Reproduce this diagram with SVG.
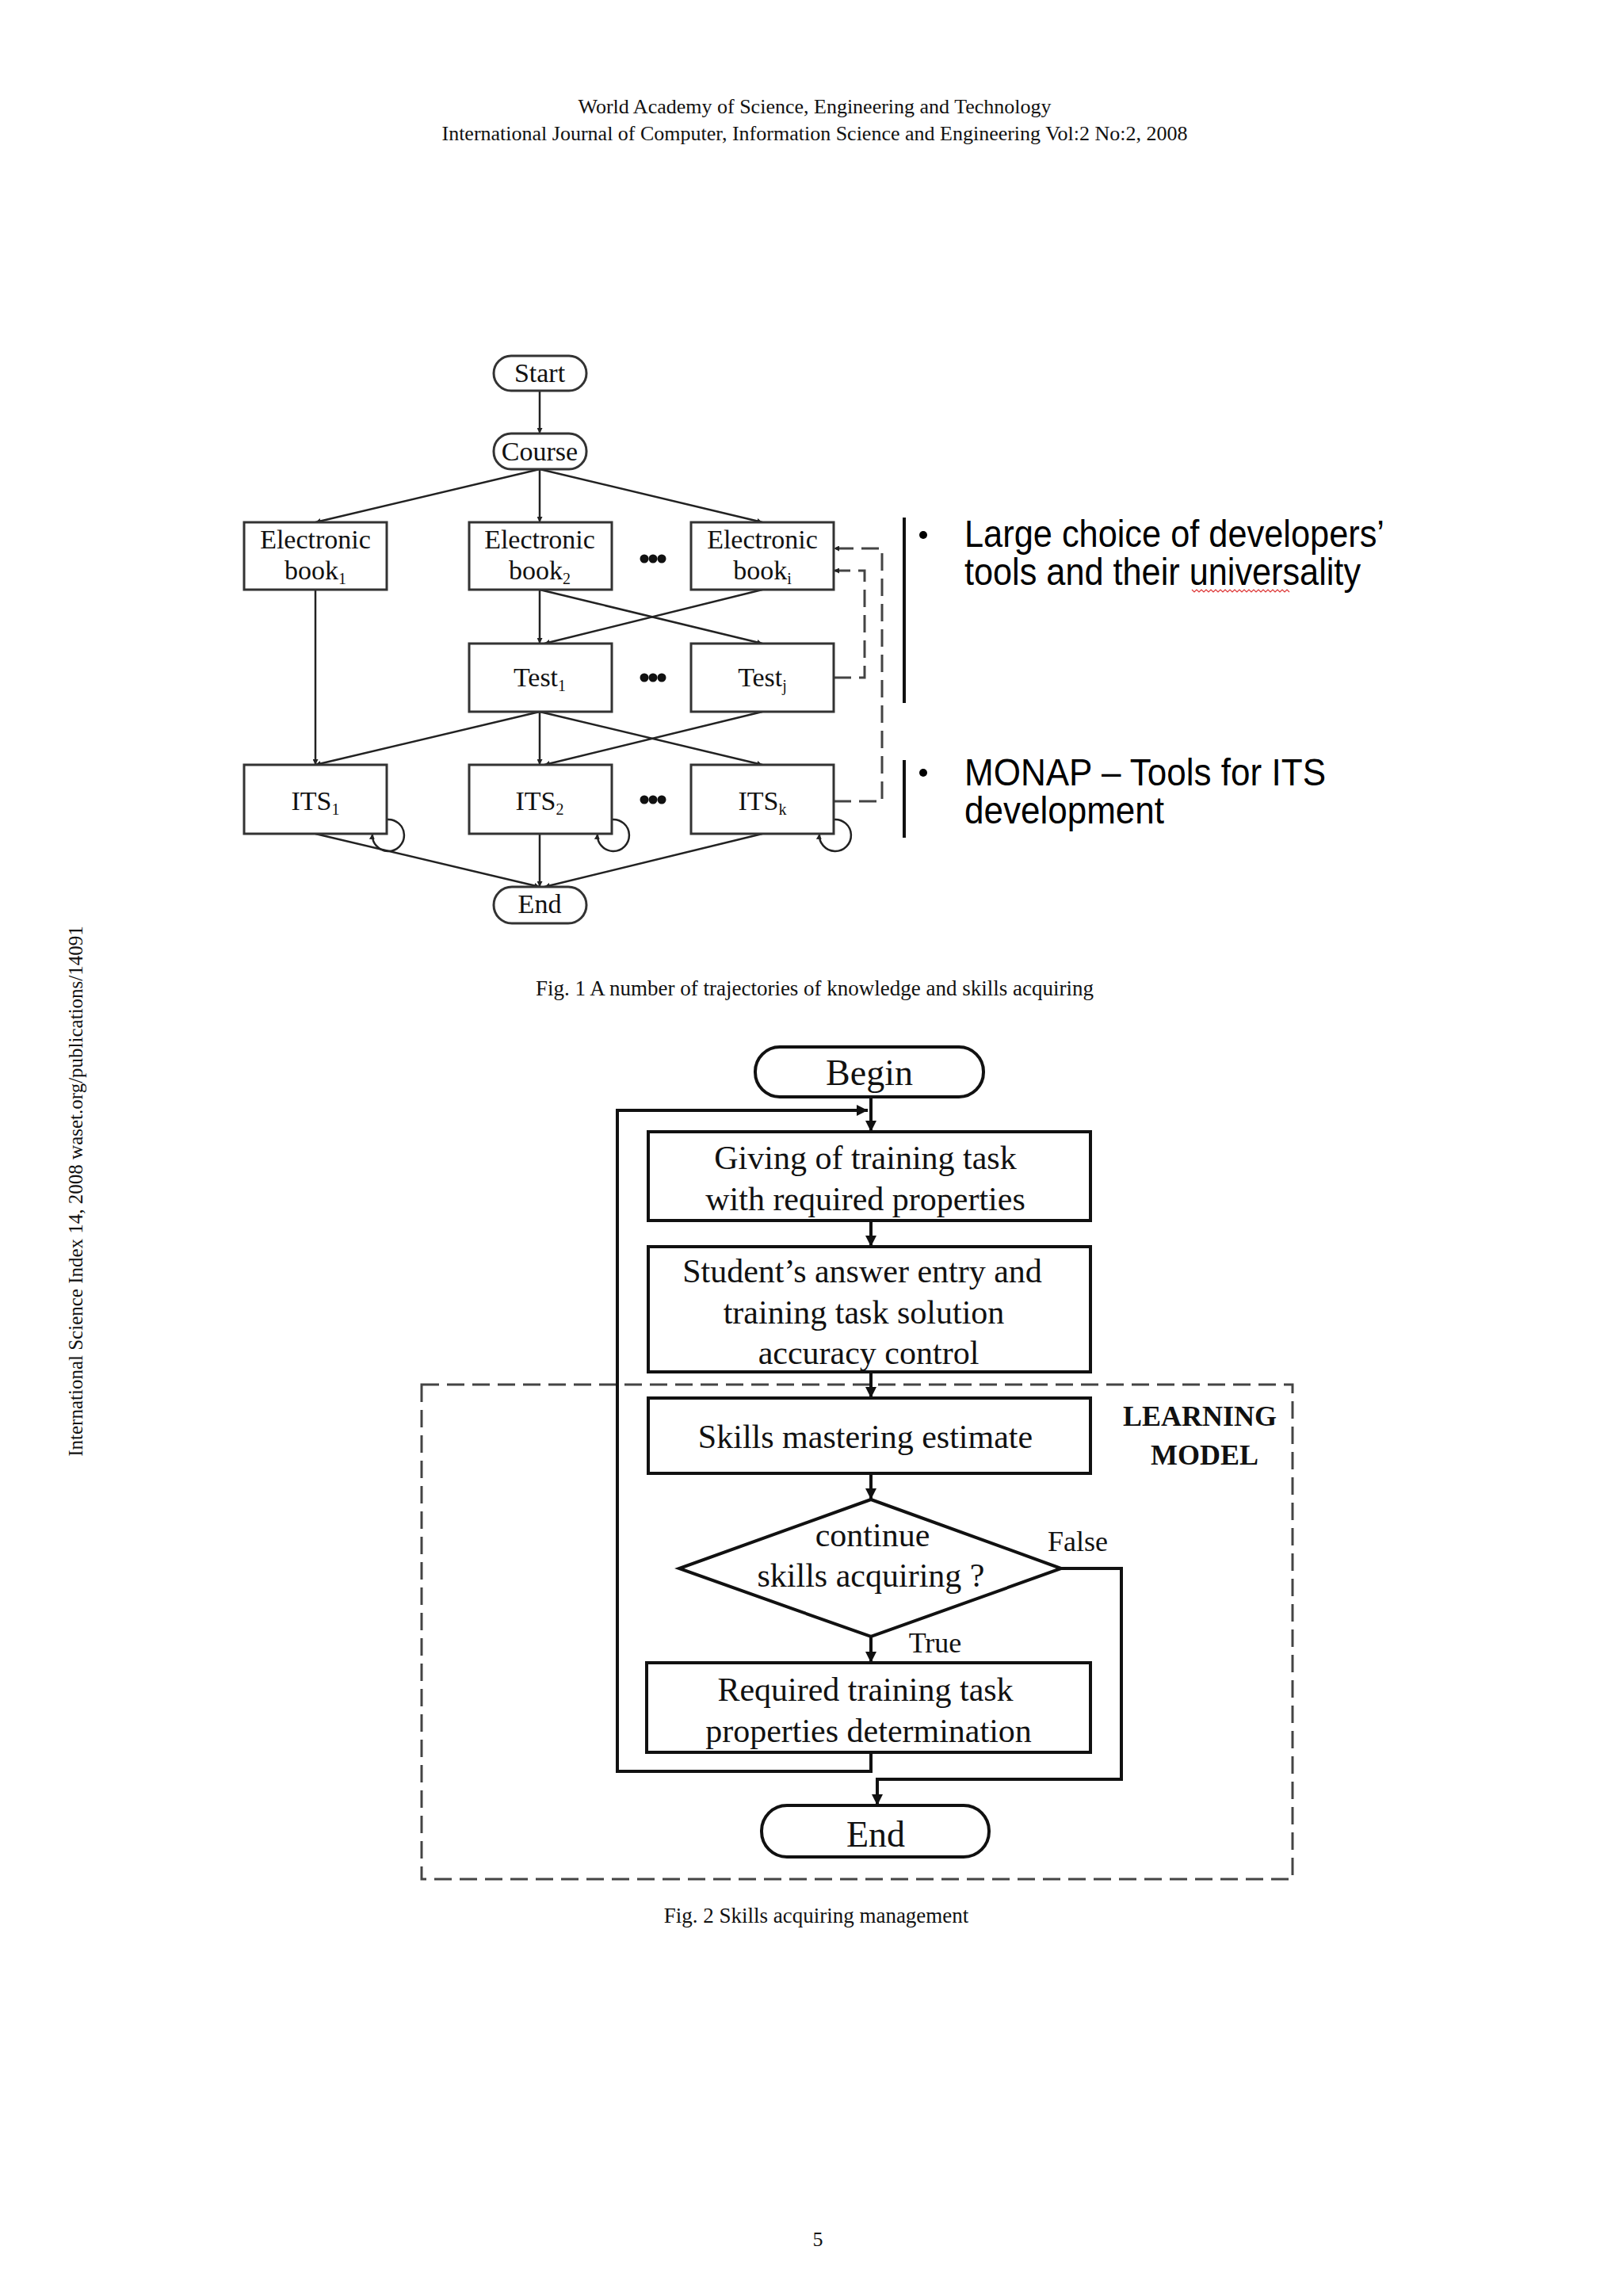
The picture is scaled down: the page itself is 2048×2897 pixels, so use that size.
<svg xmlns="http://www.w3.org/2000/svg" width="2048" height="2897" viewBox="0 0 2048 2897">
<defs>
<marker id="a" viewBox="0 0 10 10" refX="10" refY="5" markerWidth="7" markerHeight="7" markerUnits="userSpaceOnUse" orient="auto"><path d="M0,0 L10,5 L0,10 z" fill="#222"/></marker>
<marker id="b" viewBox="0 0 10 10" refX="10" refY="5" markerWidth="14" markerHeight="14" markerUnits="userSpaceOnUse" orient="auto"><path d="M0,0 L10,5 L0,10 z" fill="#111"/></marker>
<style>
.t{font-family:"Liberation Serif",serif;fill:#111;text-anchor:middle}
.f1{font-size:34px}
.f2{font-size:42px}
.box{fill:#fff;stroke:#333;stroke-width:3}
.box2{fill:#fff;stroke:#111;stroke-width:4}
.c{fill:none;stroke:#222;stroke-width:2.5}
.c2{fill:none;stroke:#111;stroke-width:4}
.d{fill:none;stroke:#444;stroke-width:3;stroke-dasharray:22 10}
.s{font-family:"Liberation Sans",sans-serif;font-size:48px;fill:#000}
.sub{font-size:20px}
</style>
</defs>
<rect width="2048" height="2897" fill="#fff"/>
<text class="t" x="1028" y="143" font-size="26">World Academy of Science, Engineering and Technology</text>
<text class="t" x="1028" y="177" font-size="26">International Journal of Computer, Information Science and Engineering Vol:2 No:2, 2008</text>
<text class="t" x="0" y="0" font-size="25" transform="translate(104,1503) rotate(-90)">International Science Index 14, 2008 waset.org/publications/14091</text>

<g id="fig1-connectors">
<path class="c" d="M681 493 V547" marker-end="url(#a)"/>
<path class="c" d="M681 592 L398 659" marker-end="url(#a)"/>
<path class="c" d="M681 592 V659" marker-end="url(#a)"/>
<path class="c" d="M681 592 L962 659" marker-end="url(#a)"/>
<path class="c" d="M398 744 V965" marker-end="url(#a)"/>
<path class="c" d="M681 744 V812" marker-end="url(#a)"/>
<path class="c" d="M681 744 L962 812" marker-end="url(#a)"/>
<path class="c" d="M962 744 L687 812" marker-end="url(#a)"/>
<path class="c" d="M681 898 L398 965" marker-end="url(#a)"/>
<path class="c" d="M681 898 V965" marker-end="url(#a)"/>
<path class="c" d="M681 898 L962 965" marker-end="url(#a)"/>
<path class="c" d="M962 898 L687 965" marker-end="url(#a)"/>
<path class="c" d="M398 1052 L681 1119" marker-end="url(#a)"/>
<path class="c" d="M681 1052 V1119" marker-end="url(#a)"/>
<path class="c" d="M962 1052 L687 1119" marker-end="url(#a)"/>
<path class="c" d="M488 1034 A20 20 0 1 1 470 1052" marker-end="url(#a)"/>
<path class="c" d="M772 1034 A20 20 0 1 1 754 1052" marker-end="url(#a)"/>
<path class="c" d="M1052 1034 A20 20 0 1 1 1034 1052" marker-end="url(#a)"/>
<path class="d" d="M1052 855 H1091 V720 H1052" marker-end="url(#a)"/>
<path class="d" d="M1052 1011 H1113 V692 H1052" marker-end="url(#a)"/>
</g>

<g id="start"><rect class="box" x="623" y="449" width="117" height="44" rx="22"/><text class="t f1" x="681" y="482">Start</text></g>
<g id="course"><rect class="box" x="623" y="547" width="117" height="45" rx="22"/><text class="t f1" x="681" y="581">Course</text></g>
<g id="ebook1"><rect class="box" x="308" y="659" width="180" height="85"/><text class="t f1" x="398" y="692">Electronic</text><text class="t f1" x="398" y="731">book<tspan class="sub" dy="6">1</tspan></text></g>
<g id="ebook2"><rect class="box" x="592" y="659" width="180" height="85"/><text class="t f1" x="681" y="692">Electronic</text><text class="t f1" x="681" y="731">book<tspan class="sub" dy="6">2</tspan></text></g>
<g id="ebooki"><rect class="box" x="872" y="659" width="180" height="85"/><text class="t f1" x="962" y="692">Electronic</text><text class="t f1" x="962" y="731">book<tspan class="sub" dy="6">i</tspan></text></g>
<g id="test1"><rect class="box" x="592" y="812" width="180" height="86"/><text class="t f1" x="681" y="866">Test<tspan class="sub" dy="6">1</tspan></text></g>
<g id="testj"><rect class="box" x="872" y="812" width="180" height="86"/><text class="t f1" x="962" y="866">Test<tspan class="sub" dy="6">j</tspan></text></g>
<g id="its1"><rect class="box" x="308" y="965" width="180" height="87"/><text class="t f1" x="398" y="1022">ITS<tspan class="sub" dy="6">1</tspan></text></g>
<g id="its2"><rect class="box" x="592" y="965" width="180" height="87"/><text class="t f1" x="681" y="1022">ITS<tspan class="sub" dy="6">2</tspan></text></g>
<g id="itsk"><rect class="box" x="872" y="965" width="180" height="87"/><text class="t f1" x="962" y="1022">ITS<tspan class="sub" dy="6">k</tspan></text></g>
<g id="end1"><rect class="box" x="623" y="1119" width="117" height="46" rx="23"/><text class="t f1" x="681" y="1152">End</text></g>
<g id="dots" fill="#111">
<circle cx="813" cy="705" r="5.5"/><circle cx="824" cy="705" r="5.5"/><circle cx="835" cy="705" r="5.5"/>
<circle cx="813" cy="855" r="5.5"/><circle cx="824" cy="855" r="5.5"/><circle cx="835" cy="855" r="5.5"/>
<circle cx="813" cy="1009" r="5.5"/><circle cx="824" cy="1009" r="5.5"/><circle cx="835" cy="1009" r="5.5"/>
</g>
<g id="notes">
<path d="M1141 653 V887 M1141 959 V1057" stroke="#111" stroke-width="4"/>
<circle cx="1165" cy="675" r="5" fill="#000"/>
<text class="s" x="1217" y="690" textLength="530" lengthAdjust="spacingAndGlyphs">Large choice of developers’</text>
<text class="s" x="1217" y="738" textLength="500" lengthAdjust="spacingAndGlyphs">tools and their universality</text>
<path d="M1504 744 l3 3 l3 -3 l3 3 l3 -3 l3 3 l3 -3 l3 3 l3 -3 l3 3 l3 -3 l3 3 l3 -3 l3 3 l3 -3 l3 3 l3 -3 l3 3 l3 -3 l3 3 l3 -3 l3 3 l3 -3 l3 3 l3 -3 l3 3 l3 -3 l3 3 l3 -3 l3 3 l3 -3 l3 3 l3 -3 l3 3 l3 -3 l3 3 l3 -3 l3 3 l3 -3 l3 3 l3 -3 l3 3" fill="none" stroke="#d33" stroke-width="1.2"/>
<circle cx="1165" cy="975" r="5" fill="#000"/>
<text class="s" x="1217" y="991" textLength="456" lengthAdjust="spacingAndGlyphs">MONAP – Tools for ITS</text>
<text class="s" x="1217" y="1039" textLength="252" lengthAdjust="spacingAndGlyphs">development</text>
</g>
<text class="t" x="1028" y="1256" font-size="27">Fig. 1 A number of trajectories of knowledge and skills acquiring</text>

<g id="fig2-connectors">
<path class="d" d="M532 1747 H1631 V2371 H532 Z" stroke="#111" stroke-width="4"/>
<path class="c2" d="M1099 1384 V1428" marker-end="url(#b)"/>
<path class="c2" d="M1099 2211 V2235 H779 V1401 H1095" marker-end="url(#b)"/>
<path class="c2" d="M1099 1540 V1573" marker-end="url(#b)"/>
<path class="c2" d="M1099 1731 V1764" marker-end="url(#b)"/>
<path class="c2" d="M1099 1859 V1892" marker-end="url(#b)"/>
<path class="c2" d="M1099 2065 V2098" marker-end="url(#b)"/>
<path class="c2" d="M1339 1979 H1415 V2245 H1107 V2278" marker-end="url(#b)"/>
</g>
<g id="begin"><rect class="box2" x="953" y="1321" width="288" height="63" rx="31"/><text class="t" font-size="46" x="1097" y="1369">Begin</text></g>
<g id="giving"><rect class="box2" x="818" y="1428" width="558" height="112"/><text class="t f2" x="1092" y="1475">Giving of training task</text><text class="t f2" x="1092" y="1527">with required properties</text></g>
<g id="student"><rect class="box2" x="818" y="1573" width="558" height="158"/><text class="t f2" x="1088" y="1618">Student’s answer entry and</text><text class="t f2" x="1090" y="1670">training task solution</text><text class="t f2" x="1096" y="1721">accuracy control</text></g>
<g id="estimate"><rect class="box2" x="818" y="1764" width="558" height="95"/><text class="t f2" x="1092" y="1827">Skills mastering estimate</text></g>
<g id="decision"><path class="box2" d="M1099 1892 L1339 1979 L1099 2065 L857 1979 Z"/><text class="t f2" x="1101" y="1951">continue</text><text class="t f2" x="1099" y="2002">skills acquiring ?</text></g>
<text class="t" font-size="36" x="1360" y="1957">False</text>
<text class="t" font-size="36" x="1180" y="2085">True</text>
<g id="required"><rect class="box2" x="816" y="2098" width="560" height="113"/><text class="t f2" x="1092" y="2146">Required training task</text><text class="t f2" x="1096" y="2198">properties determination</text></g>
<g id="end2"><rect class="box2" x="961" y="2278" width="287" height="65" rx="32"/><text class="t" font-size="46" x="1105" y="2330">End</text></g>
<text class="t" font-size="36" font-weight="bold" x="1514" y="1799">LEARNING</text>
<text class="t" font-size="36" font-weight="bold" x="1520" y="1848">MODEL</text>
<text class="t" x="1030" y="2426" font-size="27">Fig. 2 Skills acquiring management</text>
<text class="t" x="1032" y="2834" font-size="26">5</text>
</svg>
